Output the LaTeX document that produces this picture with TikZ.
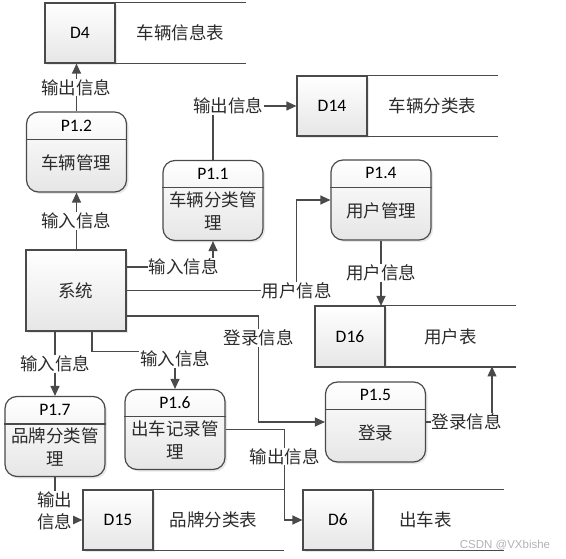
\documentclass[tikz,border=0pt]{standalone}
\usepackage{fontspec}
\setmainfont{Carlito}
\newfontfamily\cjk{Noto Sans CJK SC}
\newfontfamily\wmfont{Liberation Sans}
\usetikzlibrary{arrows.meta}
\usetikzlibrary{shadows}
\definecolor{mline}{HTML}{4A4A4A}
\definecolor{mfill}{HTML}{E6E6E6}
\definecolor{mtext}{HTML}{2B2B2B}
\tikzset{
  wire/.style = {draw=mline, line width=1.2pt},
  flow/.style = {wire, -{Triangle[length=10pt, width=9pt]}},
  boxshade/.style = {draw=mline, line width=1.2pt, top color=white, bottom color=mfill,
    drop shadow={shadow xshift=2pt, shadow yshift=-2pt, opacity=0.09, fill=black}},
  proc/.style = {boxshade, rounded corners=12pt, minimum width=100pt, minimum height=80pt},
  ext/.style = {boxshade, minimum width=100pt, minimum height=81pt, font=\cjk\fontsize{17.5}{23}\selectfont, text=mtext},
  storeid/.style = {boxshade, minimum width=70pt, minimum height=60pt, font=\fontsize{17.5}{20}\selectfont, text=black},
  ptitle/.style = {font=\fontsize{17.5}{20}\selectfont, text=black, inner sep=0pt},
  ptext/.style = {font=\cjk\fontsize{17.5}{23}\selectfont, text=mtext, align=center, inner sep=0pt},
  stext/.style = {font=\cjk\fontsize{17.5}{23}\selectfont, text=mtext, inner sep=0pt},
  lbl/.style = {fill=white, inner sep=0.8pt, font=\cjk\fontsize{17.5}{22}\selectfont, text=mtext},
}

\begin{document}
\begin{tikzpicture}[x=1pt, y=-1pt]
    \useasboundingbox (0,0) rectangle (566,559);

    % data stores
    \foreach \n/\x/\y/\id/\tx/\txt in {d4/80/33/D4/65/车辆信息表, d14/332/106/D14/65/车辆分类表,
        d16/350/336.5/D16/65/用户表, d15/118/520/D15/60/品牌分类表, d6/338/520/D6/52/出车表} {
      \node [storeid] (\n) at (\x, \y) {\id};
      \draw [wire] (\n.north west) -- ++(202, 0);
      \draw [wire] (\n.south west) -- ++(202, 0);
      \node [stext] at ([xshift=\tx pt]\n.east) {\txt};
    }

    % processes
    \foreach \n/\x/\y/\id/\txt in {p12/76.5/152/P1.2/车辆管理, p11/213/200.5/P1.1/{车辆分类管\\理},
        p14/381/200/P1.4/用户管理, p15/375.5/422/P1.5/登录,
        p17/55/436.5/P1.7/{品牌分类管\\理}, p16/175/429.5/P1.6/{出车记录管\\理}} {
      \node [proc] (\n) at (\x, \y) {};
      \draw [wire] ([yshift=-28pt]\n.north west) -- ([yshift=-28pt]\n.north east);
      \node [ptitle] at ([yshift=-14pt]\n.north) {\id};
      \node [ptext] at ([yshift=-51pt]\n.north) {\txt};
    }

    % external entity
    \node [ext] (sys) at (76, 290.5) {系统};

    % flows
    \draw [flow] (p12.north) -- (p12.north |- d4.south) node [lbl, midway] {输出信息};
    \draw [flow] (p12.south |- sys.north) -- (p12.south) node [lbl, midway] {输入信息};
    \draw [flow] (p11.north) |- (d14.west) node [lbl, pos=0.5, xshift=15pt] {输出信息};
    \draw [flow] ([yshift=23.5pt]sys.east) -| (p11.south) node [lbl, pos=0.33] {输入信息};
    \draw [flow] (sys.east) -- ++(170, 0) node [lbl] {用户信息} |- (p14.west);
    \draw [flow] ([yshift=-25.5pt]sys.east) -- ++(132, 0) -- ++(0, 22) node [lbl] {登录信息} |- (p15.west);
    \draw [flow] (p14.south) -- (p14.south |- d16.north) node [lbl, midway] {用户信息};
    \coordinate (d16in) at (492, 366.5);
    \draw [flow] (p15.east) -| (d16in) node [lbl, pos=0.31] {登录信息};
    \draw [flow] (p17.north |- sys.south) -- (p17.north) node [lbl, midway] {输入信息};
    \draw [flow] ([xshift=16pt]sys.south) -- ++(0, 20) -| (p16.north) node [lbl, pos=0.6] {输入信息};
    \draw [flow] (p17.south) |- (d15.west) node [lbl, pos=0.5, yshift=9pt, align=center] {输出\\信息};
    \draw [flow] (p16.east) -- ++(59, 0) -- ++(0, 27) node [lbl] {输出信息} |- (d6.west);

    \node [font=\wmfont\fontsize{11.5}{12}\selectfont, text=black!30] (wm) at (505, 545) {CSDN @VXbishe};
  \end{tikzpicture}
\end{document}
